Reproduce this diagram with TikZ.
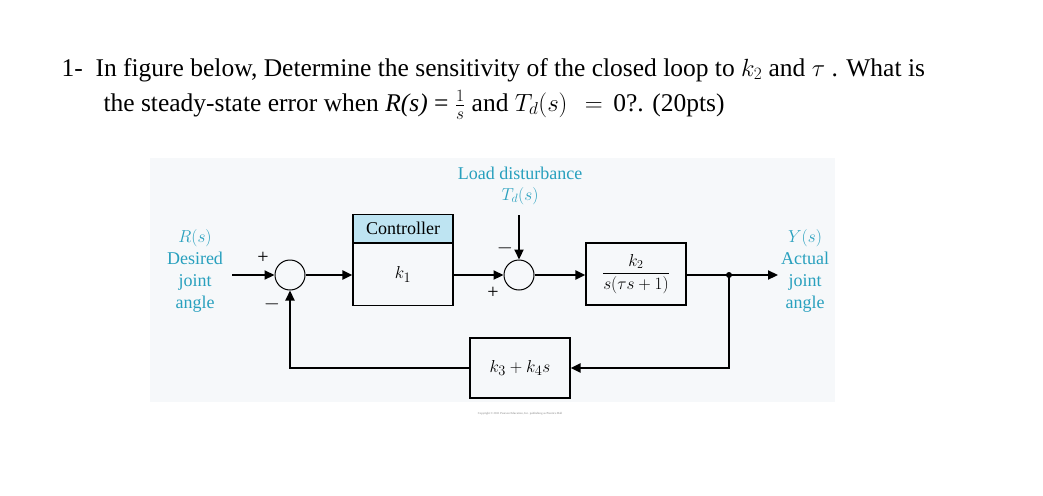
\documentclass[tikz,border=0pt]{standalone}
\usepackage{fontspec}
\setmainfont{Liberation Serif}
\usetikzlibrary{arrows.meta}
\definecolor{teal1}{RGB}{40,160,190}
\definecolor{hdr}{RGB}{190,228,242}
\definecolor{panel}{RGB}{246,248,250}
\begin{document}
\begin{tikzpicture}[x=1pt,y=-1pt,
  blk/.style={draw,line width=1.3pt,minimum width=100pt,inner sep=0pt},
  sum/.style={draw,circle,minimum size=30pt,inner sep=0pt,line width=1pt},
  sig/.style={line width=2.2pt,-{Triangle[length=10pt,width=9pt]}},
  lab/.style={text=teal1,font=\fontsize{18}{22}\selectfont,align=center},
  sg/.style={font=\fontsize{20}{20}\selectfont}]
\useasboundingbox (0,0) rectangle (1043,495);
\fill[panel] (150,158) rectangle (835,402);
\node[anchor=west,font=\fontsize{25.5}{28}\selectfont] (t1) at (58,70) {1-\ \ In figure below, Determine the sensitivity of the closed loop to $k_2$ and $\tau$ . What is};
\node[anchor=west,font=\fontsize{25.5}{28}\selectfont] (t2) at (100,105) {the steady-state error when \textit{R(s)} = $\frac{1}{s}$ and $T_d(s)\ \,=\,$ 0?. (20pts)};
\node[lab] (ld) at (520,173) {Load disturbance};
\node[lab] (td) at (520,196) {$T_d(s)$};
\node[sum] (s1) at (290,275) {};
\node[sum] (s2) at (519,275) {};
\node[blk,minimum height=62pt,anchor=north] (c) at (403,243) {\fontsize{19}{19}\selectfont $k_1$};
\node[blk,fill=hdr,minimum height=28pt,anchor=south,font=\fontsize{18}{18}\selectfont] (ch) at (403,243) {Controller};
\node[blk,minimum height=62pt] (g) at (636,274) {\fontsize{18}{21}\selectfont $\displaystyle\frac{k_2}{s(\tau s+1)}$};
\node[blk,minimum height=60pt] (h) at (520,368) {\fontsize{19}{19}\selectfont $k_3+k_4s$};
\node[lab] (r) at (195,271) {$R(s)$\\Desired\\joint\\angle};
\node[lab] (y) at (805,271) {$Y(s)$\\Actual\\joint\\angle};
\coordinate (in) at (232,275);
\coordinate (out) at (778,275);
\coordinate (br) at (729,275);
\coordinate (dtop) at (519,215);
\draw[sig] (in) -- (s1);
\draw[sig] (s1) -- (c.west|-s1);
\draw[sig] (c.east|-s2) -- (s2);
\draw[sig] (dtop) -- (s2);
\draw[sig] (s2) -- (g.west|-s2);
\draw[sig] (g.east|-br) -- (out);
\fill (br) circle (3pt);
\draw[sig] (br) |- (h.east);
\draw[sig] (h.west) -| (s1.south);
\node[sg] at (263,258) {+};
\node[sg] at (272,304) {$-$};
\node[sg] at (505,248) {$-$};
\node[sg] at (493,293) {+};
\node[font=\fontsize{3}{3}\selectfont,text=gray] (cp) at (520,414) {Copyright © 2011 Pearson Education, Inc. publishing as Prentice Hall};
\end{tikzpicture}
\end{document}
